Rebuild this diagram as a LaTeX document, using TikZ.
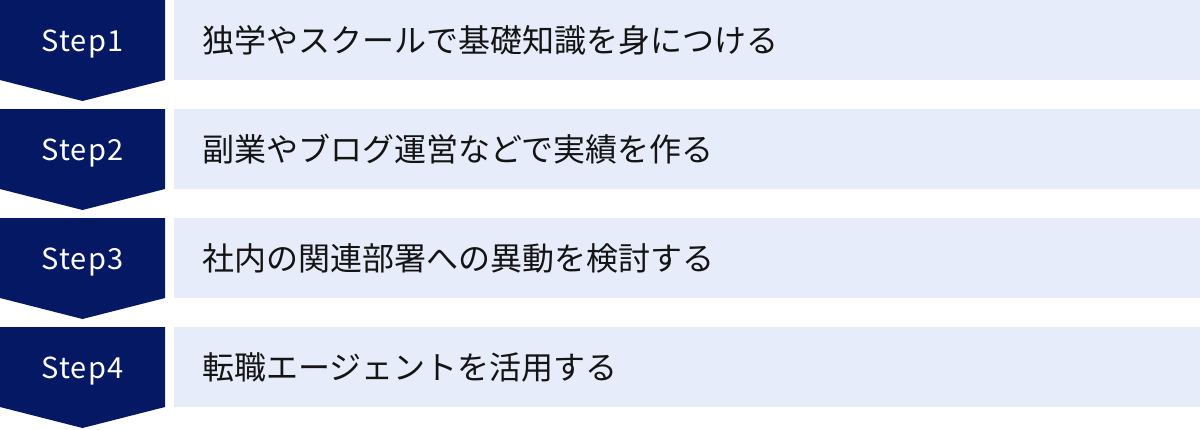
\documentclass[tikz,border=0pt]{standalone}
\usepackage{fontspec}
\setmainfont{Noto Sans CJK JP}
\definecolor{navy}{RGB}{5,24,100}
\definecolor{lightbg}{RGB}{230,236,249}
\definecolor{txt}{RGB}{20,20,20}
\tikzset{
  stepshape/.style={fill=navy, draw=none},
  lightbox/.style={fill=lightbg, draw=none, anchor=north west, minimum width=1026pt, minimum height=80pt, inner sep=0pt},
  steplabel/.style={text=white, inner sep=0pt, anchor=base, font=\fontsize{29}{34}\selectfont\addfontfeature{LetterSpace=4}},
  desc/.style={text=txt, anchor=west, inner sep=0pt, font=\fontsize{32}{38}\selectfont}
}
\begin{document}
\begin{tikzpicture}[x=1pt,y=-1pt]
\useasboundingbox (0,0) rectangle (1200,429);
\foreach \i/\t in {0/{独学やスクールで基礎知識を身につける},1/{副業やブログ運営などで実績を作る},2/{社内の関連部署への異動を検討する},3/{転職エージェントを活用する}}{
  \pgfmathsetmacro{\top}{109*\i}
  \fill[stepshape] (0,\top) -- (165,\top) -- (165,\top+80) -- (82.5,\top+101) -- (0,\top+80) -- cycle;
  \node[lightbox] (box\i) at (174,\top) {};
  \pgfmathtruncatemacro{\n}{\i+1}
  \node[steplabel] (step\i) at (82.5,\top+51.7) {Step\n};
  \node[desc] (desc\i) at (202,\top+40) {\t};
}
\end{tikzpicture}
\end{document}
